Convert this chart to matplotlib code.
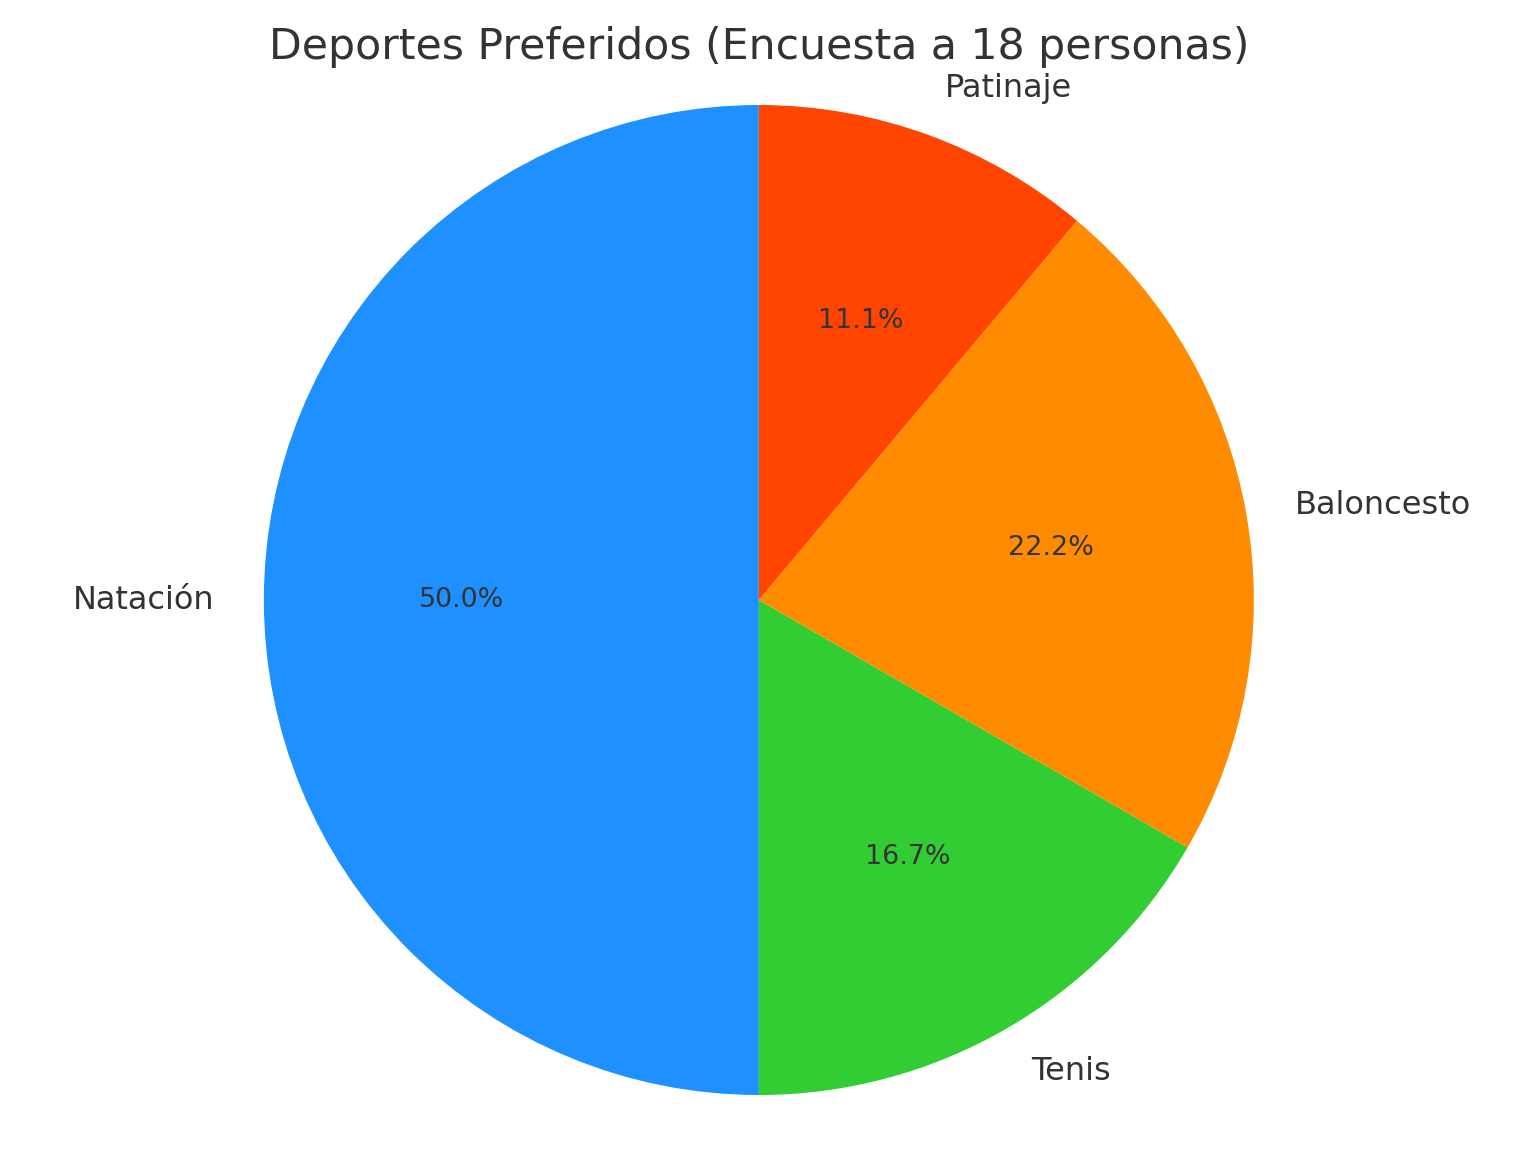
import matplotlib.pyplot as plt

# datos de la encuesta
deportes = ['Natación', 'Tenis', 'Baloncesto', 'Patinaje']
personas = [9, 3, 4, 2]
colores = ['#1E90FF', '#32CD32', '#FF8C00', '#FF4500']

fig = plt.figure(figsize=(8, 6), dpi=192)
ax = fig.add_axes([0, 0, 1, 1])

wedges, textos, pcts = ax.pie(personas, labels=deportes, colors=colores,
                              autopct='%1.1f%%', startangle=90,
                              textprops={'color': '#333333'})
for t in textos:
    t.set_fontsize(12)
for t in pcts:
    t.set_fontsize(10.1)

ax.set_aspect('equal')
ax.set_xlim(-1.533, 1.570)
ax.set_ylim(-1.115, 1.212)
ax.axis('off')

fig.text(0.494, 0.959, 'Deportes Preferidos (Encuesta a 18 personas)',
         ha='center', va='center', fontsize=16, color='#333333')

fig.savefig('out.png', dpi=192)
